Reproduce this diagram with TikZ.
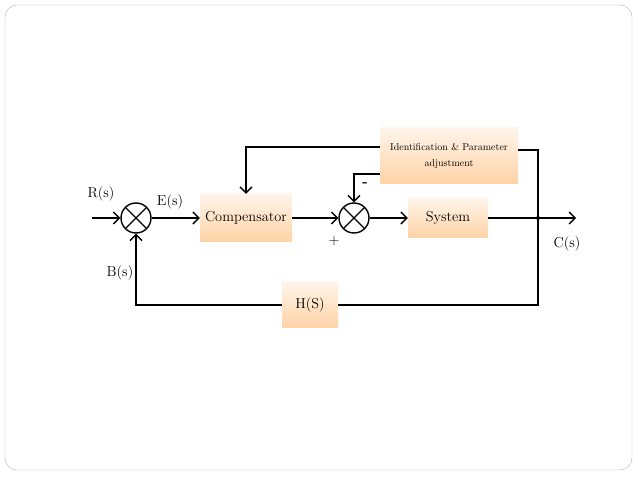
\documentclass[tikz,border=0pt]{standalone}
\usepackage{tikz}
\usetikzlibrary{positioning,arrows.meta}

\begin{document}
\begin{tikzpicture}[x=1pt,y=-1pt,>={Straight Barb[length=6pt,width=12pt]},
  blk/.style={draw=none,top color=orange!8,bottom color=orange!35,minimum height=44pt,font=\Large},
  sum/.style={circle,draw,line width=1.4pt,minimum size=30pt,inner sep=0pt,path picture={
    \draw[line width=1.4pt] (path picture bounding box.north west) -- (path picture bounding box.south east)
      (path picture bounding box.north east) -- (path picture bounding box.south west);}},
  lbl/.style={font=\Large},
  wire/.style={line width=1.4pt}]

  \useasboundingbox (0,0) rectangle (638,478);
  \draw[gray!60,rounded corners=12pt] (5,5) rectangle (632,470);

    \node[sum] (s1) at (136,218) {};
    \node[sum] (s2) at (354,218) {};
    \node[blk,minimum width=92pt,minimum height=48pt] (comp) at (246,218) {Compensator};
    \node[blk,minimum width=80pt,minimum height=40pt] (sys) at (448,218) {System};
    \node[blk,minimum width=138pt,minimum height=56pt,font=\normalsize,align=center] (id) at (449,156) {Identification \& Parameter\\[4pt] adjustment};
    \node[blk,minimum width=56pt,minimum height=46pt] (hs) at (310,305) {H(S)};

    \coordinate (in) at (92,218);
    \coordinate (out) at (576,218);
    \coordinate (j) at (538,218);
    \node[lbl] (r) at (101,194) {R(s)};
    \node[lbl] (e) at (170,202) {E(s)};
    \node[lbl] (b) at (120,273) {B(s)};
    \node[lbl] (c) at (567,244) {C(s)};
    \node[lbl] (p) at (334,241) {$+$};
    \node[lbl] (m) at (365,185) {\textbf{-}};

    \draw[wire,->] (in) -- (s1);
    \draw[wire,->] (s1) -- (comp);
    \draw[wire,->] (comp) -- (s2);
    \draw[wire,->] (s2) -- (sys);
    \draw[wire,->] (sys) -- (out);
    \fill (j) circle (2pt);
    \draw[wire] (j) |- (id.east |- 0,150);
    \draw[wire] (j) |- (hs);
    \draw[wire,->] (hs) -| (s1);
    \draw[wire,->] (id.west |- 0,147) -| (comp);
    \draw[wire,->] (id.west |- 0,174) -| (s2);

\end{tikzpicture}
\end{document}
